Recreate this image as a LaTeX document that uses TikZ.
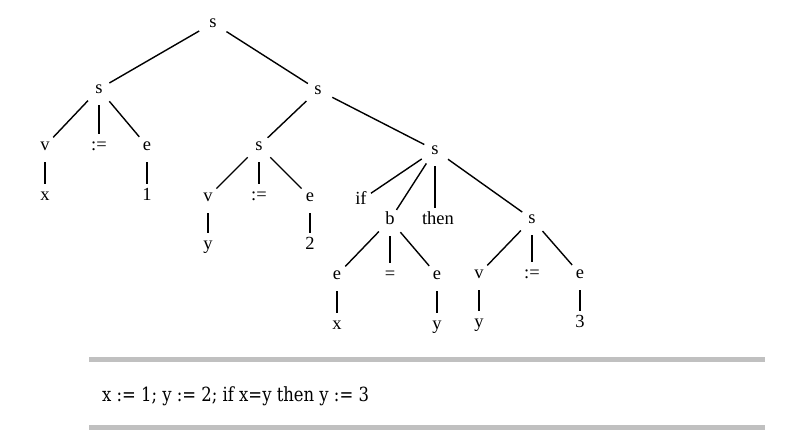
\documentclass[tikz,border=0pt]{standalone}
\usepackage{fontspec}
\setmainfont{Liberation Serif}
\newfontfamily\condfont[FakeStretch=0.937]{DejaVu Serif Condensed}
\tikzset{
  tn/.style={font=\fontsize{18.5}{21}\selectfont, inner sep=0pt, text height=8pt, text depth=0pt, anchor=center},
  edge/.style={line width=1.4pt, shorten <=16pt, shorten >=12pt},
  rulebar/.style={line width=5pt, draw=rulegray},
}
\definecolor{rulegray}{HTML}{C0C0C0}
\begin{document}
\begin{tikzpicture}[x=1pt,y=-1pt]
\useasboundingbox (0,0) rectangle (796,442);
% nodes
\node[tn] (r)  at (213,23) {s};
\node[tn] (s1) at (99,89) {s};
\node[tn] (s2) at (318,90) {s};
\node[tn] (v1) at (45,146) {v};
\node[tn] (a1) at (99,146) {:=};
\node[tn] (e1) at (147,146) {e};
\node[tn] (x1) at (45,196) {x};
\node[tn] (n1) at (147,196) {1};
\node[tn] (s3) at (259,146) {s};
\node[tn] (s4) at (435,150) {s};
\node[tn] (v2) at (208,197) {v};
\node[tn] (a2) at (259,196) {:=};
\node[tn] (e2) at (310,197) {e};
\node[tn] (y2) at (208,245) {y};
\node[tn] (n2) at (310,245) {2};
\node[tn] (if) at (361,200) {if};
\node[tn] (b)  at (390,220) {b};
\node[tn] (th) at (438,220) {then};
\node[tn] (s5) at (532,219) {s};
\node[tn] (e3) at (337,275) {e};
\node[tn] (eq) at (390,275) {=};
\node[tn] (e4) at (437,275) {e};
\node[tn] (x3) at (337,325) {x};
\node[tn] (y4) at (437,325) {y};
\node[tn] (v5) at (479,274) {v};
\node[tn] (a5) at (532,274) {:=};
\node[tn] (e5) at (580,274) {e};
\node[tn] (y5) at (479,323) {y};
\node[tn] (n5) at (580,323) {3};
% edges
\foreach \p/\c in {r/s1, r/s2, s1/v1, s1/a1, s1/e1, v1/x1, e1/n1,
  s2/s3, s2/s4, s3/v2, s3/a2, s3/e2, v2/y2, e2/n2,
  s4/if, s4/b, s4/s5, b/e3, b/eq, b/e4, e3/x3, e4/y4,
  s5/v5, s5/a5, s5/e5, v5/y5, e5/n5}
  \draw[edge] (\p.center) -- (\c.center);
\draw[edge] (s4.center) -- (s4.center |- th.center);
% source text panel
\draw[rulebar] (89,359.5) -- (765,359.5);
\draw[rulebar] (89,427.5) -- (765,427.5);
\node[font=\condfont\fontsize{19.5}{22}\selectfont, inner sep=0pt, anchor=base west] (src) at (102,401.5) {x := 1; y := 2; if x=y then y := 3};
\end{tikzpicture}
\end{document}
